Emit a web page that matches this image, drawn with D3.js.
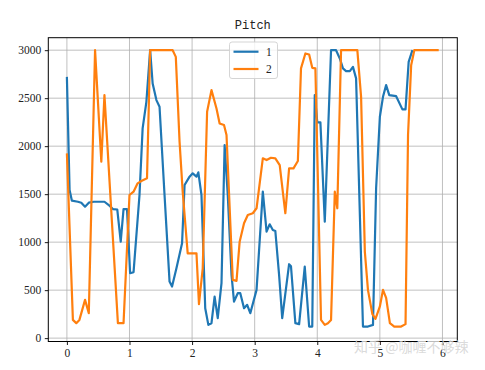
<!DOCTYPE html>
<html><head><meta charset="utf-8">
<script src="https://cdn.jsdelivr.net/npm/d3@7/dist/d3.min.js"></script>
<style>body{margin:0;background:#fff}</style>
</head><body>
<svg id="chart" width="485" height="370"></svg>
<script>
const chartTitle = "Pitch";
const seriesNames = ["1", "2"];
const seriesColors = ["#1f77b4", "#ff7f0e"];
const xTicks = [0, 1, 2, 3, 4, 5, 6];
const yTicks = [0, 500, 1000, 1500, 2000, 2500, 3000];
const watermark = "知乎 @咖喱不够辣";

const time1 = [0, 0.043, 0.08, 0.176, 0.23, 0.29, 0.35, 0.43, 0.60, 0.68, 0.735, 0.805, 0.86, 0.905, 0.96,
  1.01, 1.065, 1.16, 1.21, 1.27, 1.33, 1.37, 1.43, 1.48, 1.56, 1.64, 1.68, 1.75, 1.84, 1.88, 1.96,
  2.01, 2.07, 2.10, 2.15, 2.21, 2.26, 2.31, 2.36, 2.41, 2.47, 2.52, 2.57, 2.63, 2.67, 2.73, 2.77,
  2.83, 2.88, 2.93, 3.03, 3.13, 3.19, 3.24, 3.29, 3.33, 3.39, 3.44, 3.55, 3.58, 3.65, 3.71, 3.80,
  3.87, 3.92, 3.96, 4.00, 4.05, 4.12, 4.22, 4.30, 4.36, 4.41, 4.46, 4.52, 4.57, 4.62, 4.73, 4.81,
  4.89, 4.94, 5.00, 5.05, 5.10, 5.15, 5.26, 5.36, 5.41, 5.46, 5.52];
const pitch1 = [2722, 1543, 1432, 1421, 1411, 1370, 1411, 1421, 1421, 1380, 1345, 1340, 1005, 1345, 1345,
  676, 687, 1491, 2185, 2462, 3000, 2653, 2480, 2410, 1491, 589, 537, 728, 988, 1595, 1682,
  1717, 1682, 1727, 1491, 312, 138, 156, 433, 208, 572, 2011, 1491, 659, 381, 468, 468,
  312, 347, 260, 503, 1526, 1109, 1186, 1127, 1116, 659, 208, 770, 749, 156, 146, 745,
  121, 121, 2532, 2248, 2248, 1213, 3000, 3000, 2914, 2810, 2782, 2782, 2826, 2706, 121, 121,
  138, 1561, 2306, 2514, 2636, 2532, 2521, 2383, 2383, 2878, 3000];

const time2 = [0, 0.096, 0.15, 0.20, 0.29, 0.35, 0.45, 0.55, 0.60, 0.815, 0.905,
  1.0, 1.065, 1.13, 1.19, 1.28, 1.33, 1.69, 1.74, 1.80, 1.85, 1.93, 2.07, 2.11, 2.17, 2.24,
  2.31, 2.39, 2.44, 2.51, 2.55, 2.65, 2.71, 2.76, 2.83, 2.89, 2.97, 3.03, 3.13, 3.19, 3.26,
  3.33, 3.40, 3.49, 3.55, 3.62, 3.69, 3.74, 3.81, 3.87, 3.92, 3.97, 4.06, 4.12, 4.17, 4.22,
  4.28, 4.32, 4.38, 4.64, 4.70, 4.76, 4.81, 4.88, 4.93, 5.00, 5.05, 5.10, 5.16, 5.23, 5.34,
  5.41, 5.45, 5.50, 5.55, 5.94];
const pitch2 = [1925, 190, 156, 190, 399, 260, 3000, 1838, 2532, 156, 156,
  1491, 1526, 1613, 1637, 1665, 3000, 3000, 2930, 2046, 1526, 884, 884, 354, 728, 2358,
  2584, 2393, 2237, 2220, 2116, 607, 597, 1005, 1197, 1283, 1301, 1353, 1873, 1855, 1879,
  1873, 1803, 1301, 1769, 1769, 1845, 2810, 2966, 2955, 2816, 2810, 190, 138, 156, 190,
  1526, 1353, 3000, 3000, 2514, 900, 500, 250, 200, 330, 503, 420, 156, 121, 121,
  146, 2116, 2844, 3000, 3000];

const svg = d3.select("#chart");
const pLeft = 48.3, pRight = 457.3, pTop = 37.7, pBottom = 341.5;

const x = d3.scaleLinear().domain([-0.297, 6.237]).range([pLeft, pRight]);
const y = d3.scaleLinear().domain([-35, 3130]).range([pBottom, pTop]);

// grid
const grid = svg.append("g");
xTicks.forEach(t => grid.append("line")
  .attr("x1", x(t)).attr("x2", x(t)).attr("y1", pTop).attr("y2", pBottom)
  .attr("stroke", "#b0b0b0").attr("stroke-width", 0.8));
yTicks.forEach(t => grid.append("line")
  .attr("x1", pLeft).attr("x2", pRight).attr("y1", y(t)).attr("y2", y(t))
  .attr("stroke", "#b0b0b0").attr("stroke-width", 0.8));

// lines
const series = [
  {name: seriesNames[0], t: time1, v: pitch1, color: seriesColors[0]},
  {name: seriesNames[1], t: time2, v: pitch2, color: seriesColors[1]}
];
const line = d3.line().x(d => x(d[0])).y(d => y(d[1]));
svg.append("clipPath").attr("id", "clip").append("rect")
  .attr("x", pLeft).attr("y", pTop).attr("width", pRight - pLeft).attr("height", pBottom - pTop);
series.forEach(s => {
  svg.append("path")
    .datum(d3.zip(s.t, s.v))
    .attr("d", line)
    .attr("fill", "none")
    .attr("stroke", s.color)
    .attr("stroke-width", 2.2)
    .attr("stroke-linejoin", "round")
    .attr("clip-path", "url(#clip)");
});

// axes
const fontFam = "'Liberation Serif', 'DejaVu Serif', serif";
const xAxis = svg.append("g").attr("transform", `translate(0,${pBottom})`)
  .call(d3.axisBottom(x).tickValues(xTicks).tickFormat(d3.format("d")).tickSize(3.5).tickPadding(3.5));
const yAxis = svg.append("g").attr("transform", `translate(${pLeft},0)`)
  .call(d3.axisLeft(y).tickValues(yTicks).tickFormat(d3.format("d")).tickSize(3.5).tickPadding(3.5));
[xAxis, yAxis].forEach(a => {
  a.select(".domain").remove();
  a.selectAll("text").attr("font-family", fontFam).attr("font-size", 11.5).attr("fill", "#222");
  a.selectAll("line").attr("stroke", "#000").attr("stroke-width", 0.9);
});

// frame
svg.append("rect").attr("x", pLeft).attr("y", pTop)
  .attr("width", pRight - pLeft).attr("height", pBottom - pTop)
  .attr("fill", "none").attr("stroke", "#000").attr("stroke-width", 1);

// title
svg.append("text").attr("x", (pLeft + pRight) / 2).attr("y", 29)
  .attr("text-anchor", "middle")
  .attr("font-family", "'Liberation Mono', 'DejaVu Sans Mono', monospace")
  .attr("font-size", 12).attr("fill", "#222")
  .text(chartTitle);

// legend
const lg = svg.append("g");
lg.append("rect").attr("x", 229.5).attr("y", 42).attr("width", 48).attr("height", 36.5)
  .attr("rx", 2.5).attr("fill", "#fff").attr("fill-opacity", 0.8)
  .attr("stroke", "#d0d0d0").attr("stroke-width", 0.9);
series.forEach((s, i) => {
  const ly = 51.7 + i * 17.3;
  lg.append("line").attr("x1", 233.5).attr("x2", 258.5).attr("y1", ly).attr("y2", ly)
    .attr("stroke", s.color).attr("stroke-width", 2.2);
  lg.append("text").attr("x", 266).attr("y", ly + 4)
    .attr("font-family", fontFam).attr("font-size", 11.5).attr("fill", "#222")
    .text(s.name);
});

// watermark
svg.append("text").attr("x", 354).attr("y", 352)
  .attr("font-family", "'Noto Sans CJK SC', sans-serif")
  .attr("font-size", 14).attr("fill", "#d6d6d6").attr("fill-opacity", 0.9)
  .text(watermark);
</script>
</body></html>
